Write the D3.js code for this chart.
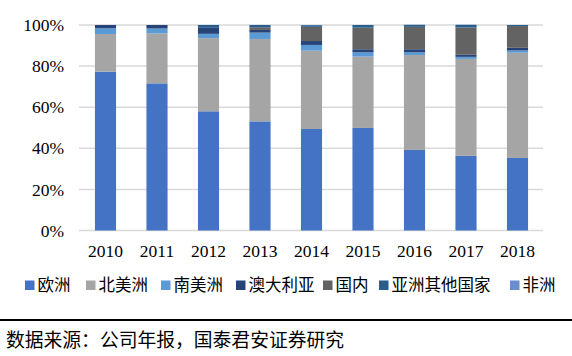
<!DOCTYPE html>
<html><head><meta charset="utf-8">
<script src="https://cdn.jsdelivr.net/npm/d3@7"></script>
<style>
html,body{margin:0;padding:0;background:#fff;}
svg{display:block;}
</style></head>
<body>
<svg id="c" width="572" height="356"></svg>
<script>
const years = ["2010","2011","2012","2013","2014","2015","2016","2017","2018"];
const seriesNames = ["欧洲","北美洲","南美洲","澳大利亚","国内","亚洲其他国家","非洲"];
const europe      = [77.3, 71.6, 58.0, 53.1, 49.4, 49.9, 39.2, 36.3, 35.3];
const northAmerica= [18.3, 24.3, 35.6, 40.1, 38.1, 34.7, 46.2, 47.2, 51.2];
const southAmerica= [2.8, 2.4, 2.1, 3.1, 2.8, 2.1, 1.3, 1.0, 1.1];
const australia   = [1.6, 1.7, 3.2, 1.3, 1.9, 1.5, 1.5, 1.0, 1.3];
const domestic    = [0, 0, 0, 1.3, 6.9, 10.5, 10.9, 13.3, 10.6];
const otherAsia   = [0, 0, 1.1, 1.1, 0.8, 1.3, 1.0, 1.3, 0.5];
const africa      = [0, 0, 0, 0, 0.1, 0, 0, 0, 0];
const yTicks = [0, 0.2, 0.4, 0.6, 0.8, 1.0];
const colors = ["#4472C4","#A5A5A5","#5B9BD5","#264478","#636363","#255E91","#698ED0"];

const seriesVals = [europe, northAmerica, southAmerica, australia, domestic, otherAsia, africa];
const rows = years.map((y,i)=>{
  const r = {year:y};
  seriesNames.forEach((s,j)=>{ r[s] = seriesVals[j][i]/100; });
  return r;
});
const stacked = d3.stack().keys(seriesNames)(rows);

const svg = d3.select("#c");
const x = d3.scaleBand().domain(years).range([79.75, 543.25]).paddingInner(0.59).paddingOuter(0.295);
const y = d3.scaleLinear().domain([0,1]).range([230.5, 25]);

// gridlines
svg.append("g").selectAll("line").data(yTicks).join("line")
  .attr("x1", 79).attr("x2", 543)
  .attr("y1", d=>y(d)).attr("y2", d=>y(d))
  .attr("stroke", "#D9D9D9").attr("stroke-width", 1.5);

// bars
svg.append("g").selectAll("g").data(stacked).join("g")
  .attr("fill", (d,i)=>colors[i])
  .selectAll("rect").data(d=>d).join("rect")
  .attr("x", d=>x(d.data.year))
  .attr("width", x.bandwidth())
  .attr("y", d=>y(d[1]))
  .attr("height", d=>Math.max(0, y(d[0])-y(d[1])));

// y axis labels
const yAxis = d3.axisLeft(y).tickValues(yTicks).tickFormat(d3.format(".0%")).tickSize(0).tickPadding(0);
const gy = svg.append("g").attr("transform","translate(64,0)").call(yAxis);
gy.select(".domain").remove();
gy.selectAll("text").attr("font-family","'Liberation Serif','Times New Roman',serif")
  .attr("font-size","17.5px").attr("fill","#000");

// x axis labels
const xAxis = d3.axisBottom(x).tickSize(0).tickPadding(0);
const gx = svg.append("g").attr("transform","translate(0,245)").call(xAxis);
gx.select(".domain").remove();
gx.selectAll("text").attr("font-family","'Liberation Serif','Times New Roman',serif")
  .attr("font-size","17.5px").attr("fill","#000").attr("dy","0.71em");

// legend
const legendX = [25, 86, 161, 236, 323, 379, 510];
const lg = svg.append("g").selectAll("g").data(seriesNames).join("g")
  .attr("transform",(d,i)=>`translate(${legendX[i]},0)`);
lg.append("rect").attr("x",0).attr("y",280.5).attr("width",9.5).attr("height",9.5)
  .attr("fill",(d,i)=>colors[i]);
lg.append("text").attr("x",12.5).attr("y",285).attr("dy","0.36em")
  .attr("font-family","'Noto Sans CJK SC',sans-serif").attr("font-size","16.5px")
  .attr("fill","#000").text(d=>d);

// footer
svg.append("line").attr("x1",0).attr("x2",572).attr("y1",320).attr("y2",320)
  .attr("stroke","#000").attr("stroke-width",1.8);
svg.append("text").attr("x",6).attr("y",340).attr("dy","0.36em")
  .attr("font-family","'Noto Sans CJK SC',sans-serif").attr("font-size","18.8px")
  .attr("fill","#000").text("数据来源：公司年报，国泰君安证券研究");
</script>
</body></html>
